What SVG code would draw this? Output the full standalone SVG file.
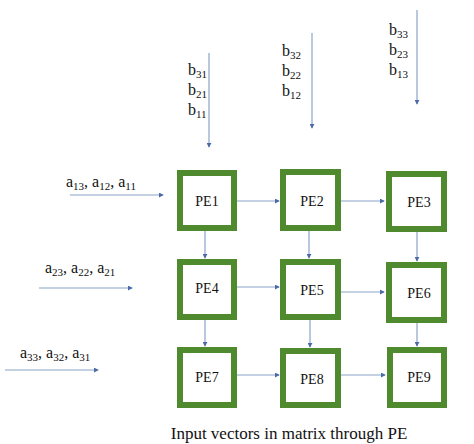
<svg xmlns="http://www.w3.org/2000/svg" width="474" height="444" viewBox="0 0 474 444">
<style>
text{font-family:'Liberation Serif','DejaVu Serif','Times New Roman',serif;fill:#111}
.pe rect{fill:#fff;stroke:#4f8a2f;stroke-width:6}
.pe text{font-size:14px;text-anchor:middle}
.lbl{font-size:16px}
.sub{font-size:11px}
.conn line{stroke:#8aa3c8;stroke-width:1.2;marker-end:url(#ah)}
</style>
<defs>
<marker id="ah" viewBox="0 0 6 6" refX="5" refY="3" markerWidth="5" markerHeight="5" orient="auto" markerUnits="userSpaceOnUse">
<path d="M0,0 L6,3 L0,6 Z" fill="#4a6aa8"/>
</marker>
</defs>
<rect width="474" height="444" fill="#fff"/>

<g id="PE1" class="pe"><rect x="180" y="173" width="54" height="55"/><text x="207" y="206">PE1</text></g>
<g id="PE2" class="pe"><rect x="283" y="172" width="55" height="56"/><text x="312" y="206">PE2</text></g>
<g id="PE3" class="pe"><rect x="389" y="174" width="55" height="55"/><text x="419" y="207">PE3</text></g>
<g id="PE4" class="pe"><rect x="180" y="262" width="54" height="55"/><text x="207" y="293">PE4</text></g>
<g id="PE5" class="pe"><rect x="283" y="262" width="55" height="55"/><text x="312" y="295">PE5</text></g>
<g id="PE6" class="pe"><rect x="389" y="265" width="55" height="55"/><text x="419" y="298">PE6</text></g>
<g id="PE7" class="pe"><rect x="180" y="350" width="54" height="55"/><text x="207" y="382">PE7</text></g>
<g id="PE8" class="pe"><rect x="283" y="351" width="55" height="54"/><text x="312" y="384">PE8</text></g>
<g id="PE9" class="pe"><rect x="390" y="350" width="54" height="55"/><text x="419" y="382">PE9</text></g>

<g id="connectors" class="conn">
<line x1="237" y1="201" x2="279" y2="201"/>
<line x1="341" y1="201" x2="384" y2="201"/>
<line x1="237" y1="287" x2="279" y2="287"/>
<line x1="341" y1="292" x2="384" y2="292"/>
<line x1="237" y1="375" x2="279" y2="375"/>
<line x1="341" y1="375" x2="385" y2="375"/>
<line x1="205" y1="231" x2="205" y2="258"/>
<line x1="309" y1="231" x2="309" y2="258"/>
<line x1="417" y1="232" x2="417" y2="261"/>
<line x1="205" y1="320" x2="205" y2="346"/>
<line x1="310" y1="320" x2="310" y2="347"/>
<line x1="417" y1="323" x2="417" y2="346"/>
<line x1="70" y1="195" x2="163" y2="195"/>
<line x1="39" y1="288" x2="132" y2="288"/>
<line x1="5" y1="370" x2="98" y2="370"/>
<line x1="209" y1="53" x2="209" y2="147"/>
<line x1="312" y1="33" x2="312" y2="128"/>
<line x1="417" y1="10" x2="417" y2="104"/>
</g>

<g id="a-labels" class="lbl">
<text x="66" y="187">a<tspan class="sub" dy="3">13</tspan><tspan dy="-3">, a</tspan><tspan class="sub" dy="3">12</tspan><tspan dy="-3">, a</tspan><tspan class="sub" dy="3">11</tspan></text>
<text x="45" y="273">a<tspan class="sub" dy="3">23</tspan><tspan dy="-3">, a</tspan><tspan class="sub" dy="3">22</tspan><tspan dy="-3">, a</tspan><tspan class="sub" dy="3">21</tspan></text>
<text x="20" y="358">a<tspan class="sub" dy="3">33</tspan><tspan dy="-3">, a</tspan><tspan class="sub" dy="3">32</tspan><tspan dy="-3">, a</tspan><tspan class="sub" dy="3">31</tspan></text>
</g>

<g id="b-labels" class="lbl">
<text x="188" y="75">b<tspan class="sub" dy="3">31</tspan></text>
<text x="188" y="95">b<tspan class="sub" dy="3">21</tspan></text>
<text x="188" y="115">b<tspan class="sub" dy="3">11</tspan></text>
<text x="282" y="56">b<tspan class="sub" dy="3">32</tspan></text>
<text x="282" y="76">b<tspan class="sub" dy="3">22</tspan></text>
<text x="282" y="96">b<tspan class="sub" dy="3">12</tspan></text>
<text x="389" y="35">b<tspan class="sub" dy="3">33</tspan></text>
<text x="389" y="55">b<tspan class="sub" dy="3">23</tspan></text>
<text x="389" y="75">b<tspan class="sub" dy="3">13</tspan></text>
</g>

<text x="289" y="439" font-size="17" text-anchor="middle">Input vectors in matrix through PE</text>
</svg>
